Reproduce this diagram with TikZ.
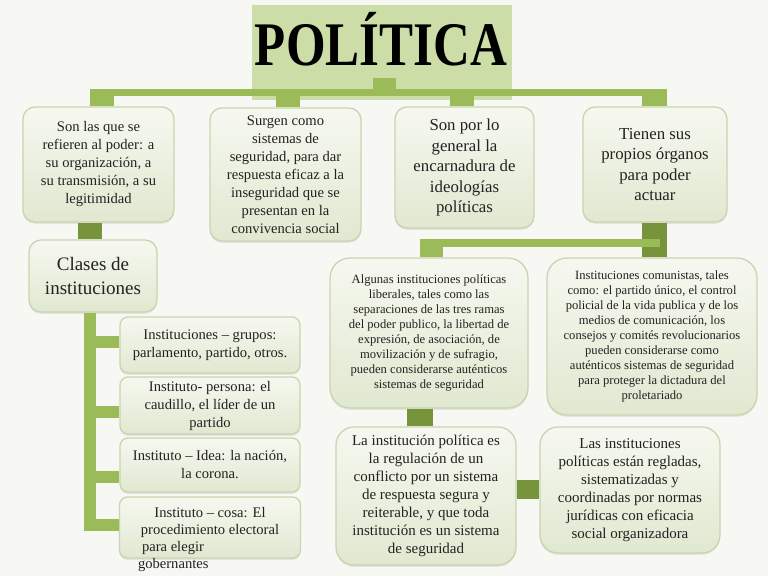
\documentclass[tikz,border=0pt]{standalone}
\usepackage{fontspec}
\usepackage{graphicx}
\setmainfont{Liberation Serif}
\usetikzlibrary{shadows}
\definecolor{bgc}{HTML}{F7F8F4}
\definecolor{lbarc}{HTML}{9BBB59}
\definecolor{dbarc}{HTML}{77933C}
\definecolor{titlec}{HTML}{CCDDA8}
\definecolor{boxtop}{HTML}{F6F8F0}
\definecolor{boxbot}{HTML}{E1E8D0}
\definecolor{boxline}{HTML}{C8D5AE}
\definecolor{txtc}{HTML}{222222}
\newcommand{\fsS}{\fontsize{12.6}{15}\selectfont}
\newcommand{\fsA}{\fontsize{14.6}{18}\selectfont}
\newcommand{\fsB}{\fontsize{15}{18}\selectfont}
\newcommand{\fsC}{\fontsize{16.8}{20.5}\selectfont}
\newcommand{\fsD}{\fontsize{19}{23.5}\selectfont}
\tikzset{
  x=1pt, y=-1pt,
  box/.style={draw=boxline, line width=1.3pt, top color=boxtop, bottom color=boxbot,
    rounded corners=12pt, align=center, inner sep=1pt, text=txtc,
    drop shadow={shadow xshift=0pt, shadow yshift=-1.8pt, opacity=0.18, fill=black!45}},
  lbar/.style={draw=lbarc, line cap=butt},
  dbar/.style={draw=dbarc, line cap=butt},
}
\begin{document}
\begin{tikzpicture}
\fill[bgc] (0,0) rectangle (768,576);
\useasboundingbox (0,0) rectangle (768,576);

% title
\node[fill=titlec, minimum width=260pt, minimum height=95pt, inner sep=0] (title) at (382,52.5) {};
\node[anchor=base, inner sep=0, text=black] (ttext) at (381,65)
  {\fontsize{62}{62}\selectfont\bfseries\scalebox{0.822}[1]{POLÍTICA}};

% coordinates of the top bar
\coordinate (barL) at (90,92.5);
\coordinate (barR) at (667,92.5);

% top boxes
\node[box, minimum width=151pt, minimum height=115pt, font=\fsA] (b1) at (98.5,164.5)
  {Son las que se\\refieren al poder: a\\su organización, a\\su transmisión, a su\\legitimidad};
\node[box, minimum width=151pt, minimum height=133pt, font=\fsA] (b2) at (285.5,174.5)
  {Surgen como\\sistemas de\\seguridad, para dar\\respuesta eficaz a la\\inseguridad que se\\presentan en la\\convivencia social};
\node[box, minimum width=139pt, minimum height=121pt, font=\fsC] (b3) at (464.5,167.5)
  {Son por lo\\general la\\encarnadura de\\ideologías\\políticas};
\node[box, minimum width=144pt, minimum height=115pt, font=\fsC] (b4) at (655,164.5)
  {Tienen sus\\propios órganos\\para poder\\actuar};

% connectors from title
\draw[lbar, line width=7pt] (barL) -- (barR);
\draw[lbar, line width=23pt] (384.5,0 |- title.south) ++(0,-22) -- ++(0,13);
\draw[lbar, line width=24pt] (102,96) -- (102,0 |- b1.north);
\draw[lbar, line width=24pt] (288,96) -- (288,0 |- b2.north);
\draw[lbar, line width=24pt] (462,96) -- (462,0 |- b3.north);
\draw[lbar, line width=25pt] (654.5,96) -- (654.5,0 |- b4.north);

% left branch
\node[box, minimum width=128pt, minimum height=72pt, font=\fsD] (clases) at (93,276)
  {Clases de\\instituciones};
\draw[dbar, line width=24pt] (90,0 |- b1.south) -- (90,0 |- clases.north);

\node[box, rounded corners=8pt, minimum width=180pt, minimum height=56pt, font=\fsA] (i1) at (210,345)
  {Instituciones – grupos:\\parlamento, partido, otros.};
\node[box, rounded corners=8pt, minimum width=180pt, minimum height=57pt, font=\fsA] (i2) at (210,405.5)
  {Instituto- persona: el\\caudillo, el líder de un\\partido};
\node[box, rounded corners=8pt, minimum width=180pt, minimum height=54pt, font=\fsA] (i3) at (210,465)
  {Instituto – Idea: la nación,\\la corona.};
\node[box, rounded corners=8pt, minimum width=181pt, minimum height=61pt] (i4) at (210,527.5) {};
\node[anchor=north, inner sep=0, align=center, text=txtc, font=\fontsize{14.6}{17}\selectfont] (i4t) at (210,507)
  {Instituto – cosa: El\\procedimiento electoral\\\makebox[180pt][l]{\hspace{22pt}para elegir}\\\makebox[180pt][l]{\hspace{18pt}gobernantes}};

\draw[lbar, line width=12pt] (90,0 |- clases.south) -- (90,531);
\draw[lbar, line width=12pt] (84,342) -- (i1.west |- 0,342);
\draw[lbar, line width=12pt] (84,412) -- (i2.west |- 0,412);
\draw[lbar, line width=12pt] (84,477) -- (i3.west |- 0,477);
\draw[lbar, line width=12pt] (84,525) -- (i4.west |- 0,525);

% right branch
\node[box, rounded corners=20pt, minimum width=198pt, minimum height=150pt, font=\fsS] (alg) at (429,333)
  {Algunas instituciones políticas\\liberales, tales como las\\separaciones de las tres ramas\\del poder publico, la libertad de\\expresión, de asociación, de\\movilización y de sufragio,\\pueden considerarse auténticos\\sistemas de seguridad};
\node[box, rounded corners=20pt, minimum width=210pt, minimum height=157pt, font=\fsS] (com) at (652,336.5)
  {Instituciones comunistas, tales\\como: el partido único, el control\\policial de la vida publica y de los\\medios de comunicación, los\\consejos y comités revolucionarios\\pueden considerarse como\\auténticos sistemas de seguridad\\para proteger la dictadura del\\proletariado};

\draw[dbar, line width=25pt] (654.5,0 |- b4.south) -- (654.5,0 |- com.north);
\draw[lbar, line width=8pt] (420,243) -- (660,243);
\draw[lbar, line width=23pt] (431.5,239) -- (431.5,0 |- alg.north);

\node[box, rounded corners=18pt, minimum width=180pt, minimum height=138pt, font=\fsB] (la) at (426,496)
  {La institución política es\\la regulación de un\\conflicto por un sistema\\de respuesta segura y\\reiterable, y que toda\\institución es un sistema\\de seguridad};
\node[box, rounded corners=18pt, minimum width=180pt, minimum height=126pt, font=\fsB] (las) at (630,490)
  {Las instituciones\\políticas están regladas,\\sistematizadas y\\coordinadas por normas\\jurídicas con eficacia\\social organizadora};

\draw[dbar, line width=26pt] (420,0 |- alg.south) -- (420,0 |- la.north);
\draw[dbar, line width=19pt] (la.east |- 0,489.5) -- (las.west |- 0,489.5);
\end{tikzpicture}
\end{document}
